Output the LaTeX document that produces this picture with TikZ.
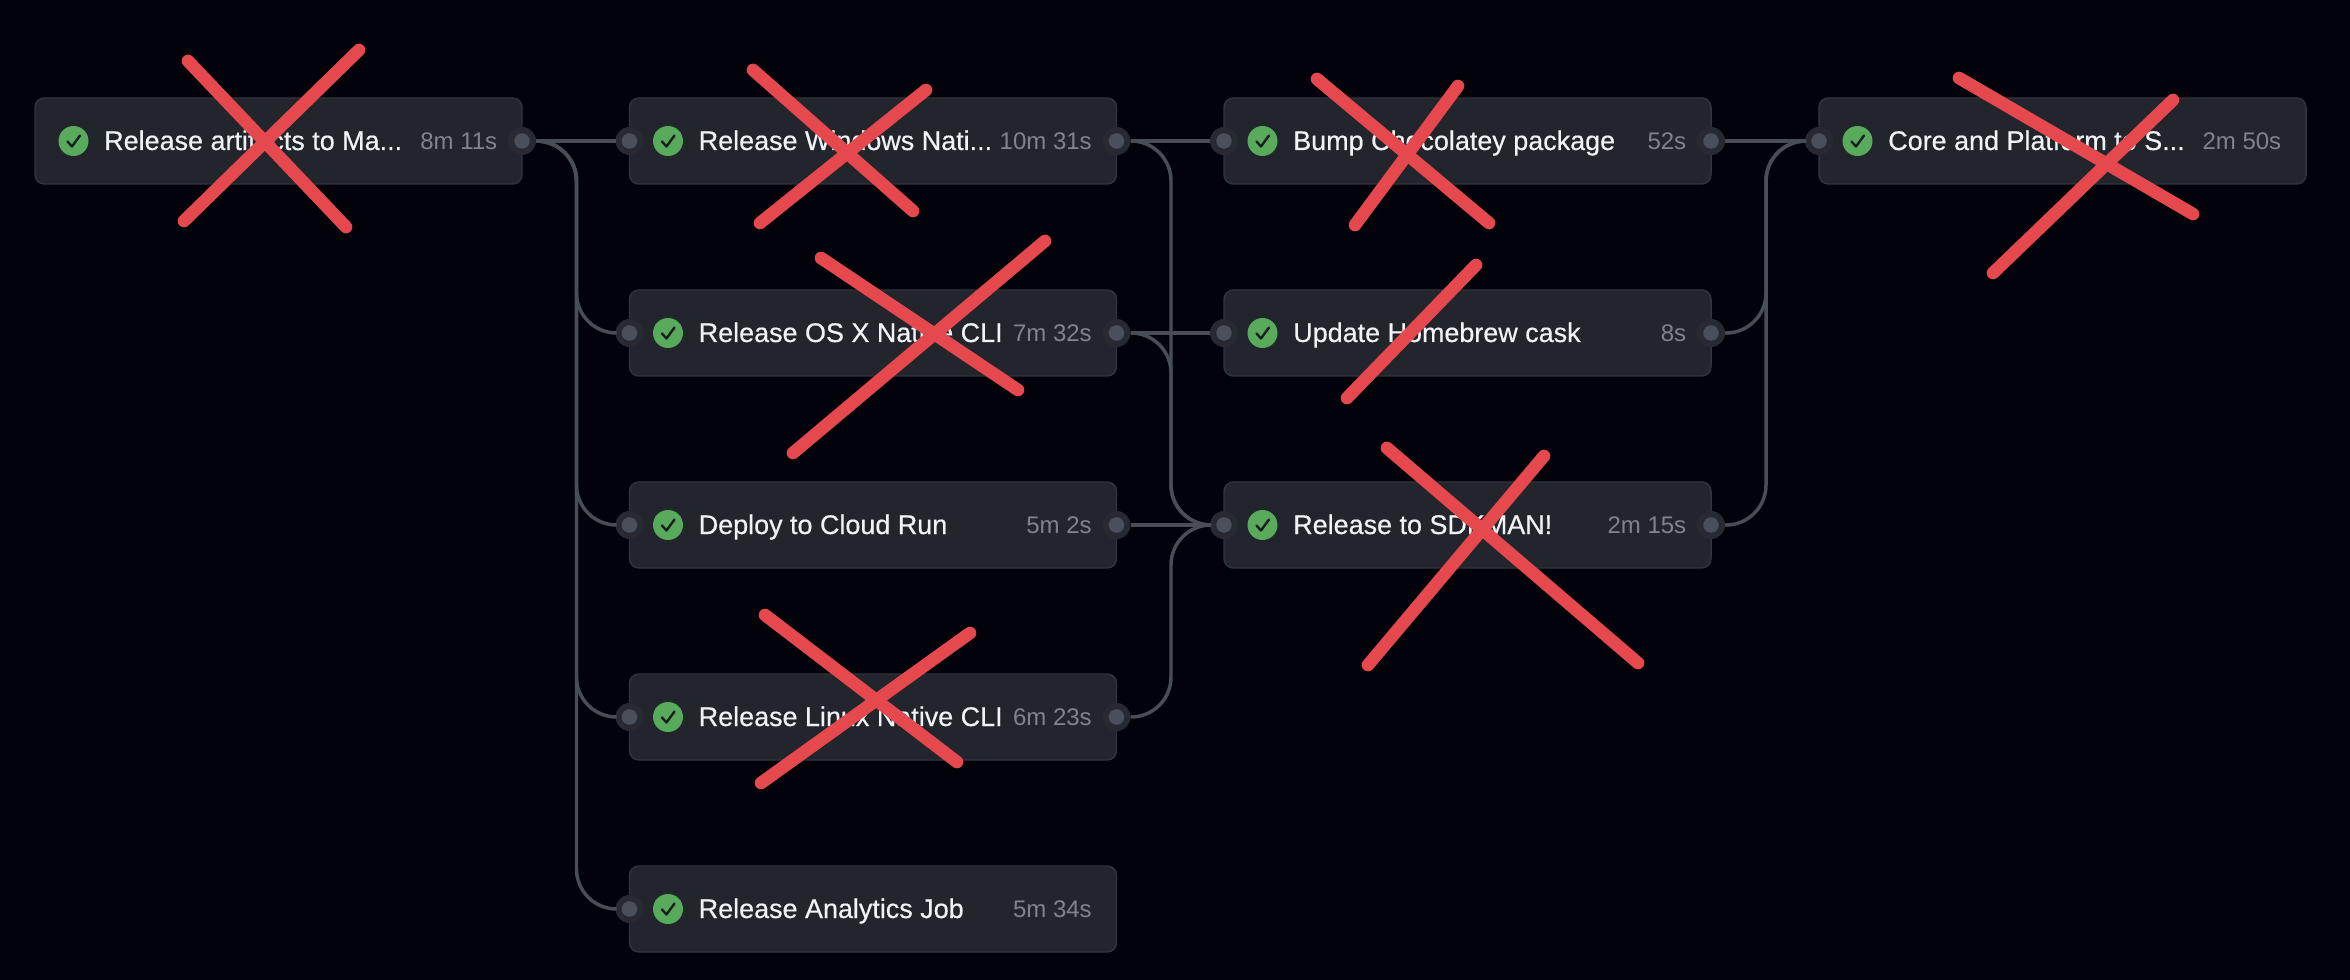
\documentclass[tikz,border=0pt]{standalone}
\usepackage{fontspec}
\usepackage{xcolor}
\setmainfont{Liberation Sans}
\newfontface\jobface[FakeBold=0.5]{Liberation Sans}

\definecolor{pagebg}{HTML}{02030A}
\definecolor{jobfill}{HTML}{22252C}
\definecolor{jobline}{HTML}{30343B}
\definecolor{halo}{HTML}{272A32}
\definecolor{portdot}{HTML}{4A505B}
\definecolor{linkline}{HTML}{484D56}
\definecolor{okgreen}{HTML}{57AB5A}
\definecolor{tickdark}{HTML}{1B1E24}
\definecolor{strikered}{HTML}{E5484D}
\definecolor{jobtext}{HTML}{F0F3F6}
\definecolor{durtext}{HTML}{7F848C}

\newcommand{\cutoff}{...}

\tikzset{
  job/.style={draw=jobline, fill=jobfill, line width=1.1pt, rounded corners=7pt, minimum width=365.25pt, minimum height=64.5pt, outer sep=0pt, inner sep=0pt, anchor=west},
  port/.style={circle, fill=halo, minimum size=21pt, inner sep=0pt, outer sep=0pt, path picture={\fill[portdot] (path picture bounding box.center) circle (5.8pt);}},
  okmark/.style={circle, fill=okgreen, minimum size=22.5pt, inner sep=0pt},
  tick/.style={draw=tickdark, line width=1.8pt, line cap=round, line join=round},
  jobtitle/.style={anchor=base west, inner sep=0pt, text=jobtext, font=\jobface\fontsize{20.2}{24}\selectfont},
  jobtime/.style={anchor=base east, inner sep=0pt, text=durtext, font=\fontsize{18}{22}\selectfont},
  link/.style={draw=linkline, line width=2.6pt, rounded corners=30pt},
  strike/.style={draw=strikered, line width=9.5pt, line cap=round}
}

\begin{document}
\begin{tikzpicture}[x=0.75pt,y=0.75pt,yscale=-1.,xscale=1.]
    \fill[pagebg] (0,0) rectangle (2350,980);

    % Job boxes
    \foreach \id/\cx/\cy/\txt/\dur in {
        artifacts/35/141/Release artifacts to Ma\cutoff/8m 11s,
        windows/629.5/141/Release Windows Nati\cutoff/10m 31s,
        osx/629.5/333/Release OS X Native CLI/7m 32s,
        deploy/629.5/525/Deploy to Cloud Run/5m 2s,
        linux/629.5/717/Release Linux Native CLI/6m 23s,
        analytics/629.5/909/Release Analytics Job/5m 34s,
        bump/1224/141/Bump Chocolatey package/52s,
        homebrew/1224/333/Update Homebrew cask/8s,
        sdkman/1224/525/Release to SDKMAN!/2m 15s,
        core/1819/141/Core and Platform to S\cutoff/2m 50s}{
      \node[job] (\id) at (\cx,\cy) {};
      \node[okmark] (\id mark) at (\cx+38.5,\cy) {};
      \draw[tick] (\cx+32.5,\cy+0.5) -- (\cx+37,\cy+5.5) -- (\cx+45,\cy-5.5);
      \node[jobtitle] (\id title) at (\cx+69,\cy+9) {\txt};
      \node[jobtime] (\id time) at (\cx+462.5,\cy+8.5) {\dur};
    }

    % Ports
    \foreach \id in {windows,osx,deploy,linux,analytics,bump,homebrew,sdkman,core}
      \node[port] (\id in) at (\id.west) {};
    \foreach \id in {artifacts,windows,osx,deploy,linux,bump,homebrew,sdkman}
      \node[port] (\id out) at (\id.east) {};

    % Vertical runs of the links
    \coordinate (busa) at (576.5,141);
    \coordinate (busb) at (1171,141);
    \coordinate (busc) at (1766,141);

    % Straight links
    \foreach \from/\to in {artifactsout/windowsin,windowsout/bumpin,osxout/homebrewin,deployout/sdkmanin,bumpout/corein}
      \draw[link] (\from.east) -- (\to.west);

    % Curved links
    \foreach \from/\to/\bus in {artifactsout/osxin/busa,artifactsout/deployin/busa,artifactsout/linuxin/busa,artifactsout/analyticsin/busa,
        windowsout/sdkmanin/busb,osxout/sdkmanin/busb,linuxout/sdkmanin/busb,
        homebrewout/corein/busc,sdkmanout/corein/busc}
      \draw[link] (\from.east) -| (\bus |- \to.west) -- (\to.west);

    % Red crosses
    \foreach \xa/\ya/\xb/\yb in {
        188/61/346/227, 359/50/184/221,
        753/70/913/211, 926/90/760/223,
        821/258/1018/390, 1045/241/793/453,
        765/615/957/762, 970/633/761/783,
        1317/79/1489/223, 1458/86/1355/225,
        1476/265/1347/398,
        1387/448/1638/663, 1544/456/1368/665,
        1959/78/2193/214, 2173/100/1993/273}
      \draw[strike] (\xa,\ya) -- (\xb,\yb);
\end{tikzpicture}
\end{document}
